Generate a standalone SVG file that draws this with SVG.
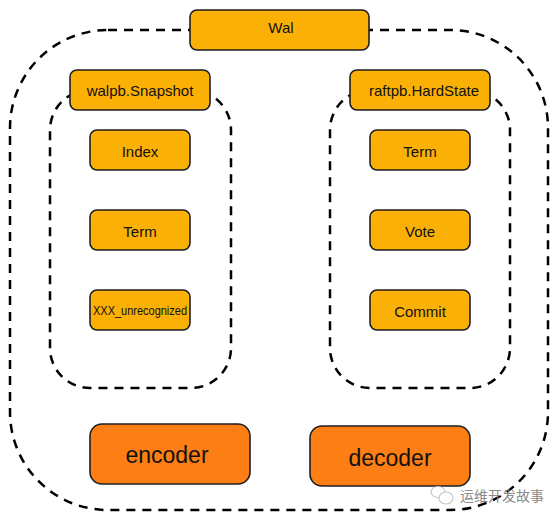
<svg xmlns="http://www.w3.org/2000/svg" width="560" height="520" viewBox="0 0 560 520">
<style>
.grp{fill:none;stroke:#000;stroke-width:2.5;stroke-dasharray:9 7}
.box{fill:#fab005;stroke:#1e1e1e;stroke-width:1.6}
.box2{fill:#fd7e14;stroke:#1e1e1e;stroke-width:1.6}
.t{font-family:"Liberation Sans",Arial,sans-serif;font-size:15px;fill:#111;text-anchor:middle;dominant-baseline:central}
.big{font-size:23px}
.wm{font-family:"Noto Sans CJK SC",sans-serif;font-size:14px;fill:#8a8a8a;dominant-baseline:central}
</style>
<rect width="560" height="520" fill="#fff"/>
<g id="connectors">
<rect class="grp" x="10" y="30" width="538" height="480" rx="98" ry="98"/>
<rect class="grp" x="50" y="90" width="181" height="298" rx="40" ry="40"/>
<rect class="grp" x="330" y="90" width="180" height="298" rx="40" ry="40"/>
</g>
<g id="wal"><rect class="box" x="190" y="10" width="179" height="40" rx="7"/><text class="t" x="281" y="27">Wal</text></g>
<g id="snapshot"><rect class="box" x="70" y="70" width="140" height="40" rx="7"/><text class="t" x="140" y="90">walpb.Snapshot</text></g>
<g id="hardstate"><rect class="box" x="350" y="70" width="140" height="40" rx="7"/><text class="t" x="424" y="90">raftpb.HardState</text></g>
<g id="index"><rect class="box" x="90" y="130" width="100" height="40" rx="7"/><text class="t" x="140" y="151">Index</text></g>
<g id="term1"><rect class="box" x="90" y="210" width="100" height="40" rx="7"/><text class="t" x="140" y="231">Term</text></g>
<g id="xxx"><rect class="box" x="90" y="290" width="100" height="40" rx="7"/><text class="t" x="140" y="311" style="font-size:12px" textLength="94" lengthAdjust="spacingAndGlyphs">XXX_unrecognized</text></g>
<g id="term2"><rect class="box" x="370" y="130" width="100" height="40" rx="7"/><text class="t" x="420" y="151">Term</text></g>
<g id="vote"><rect class="box" x="370" y="210" width="100" height="40" rx="7"/><text class="t" x="420" y="231">Vote</text></g>
<g id="commit"><rect class="box" x="370" y="290" width="100" height="40" rx="7"/><text class="t" x="420" y="311">Commit</text></g>
<g id="encoder"><rect class="box2" x="90" y="424" width="160" height="60" rx="12"/><text class="t big" x="167" y="455">encoder</text></g>
<g id="decoder"><rect class="box2" x="310" y="426" width="160" height="60" rx="12"/><text class="t big" x="390" y="458">decoder</text></g>
<g id="watermark">
<ellipse cx="438" cy="492" rx="7" ry="5.5" fill="none" stroke="#c8c8c8" stroke-width="1.2"/>
<ellipse cx="446" cy="498" rx="7" ry="6" fill="#fff" stroke="#c8c8c8" stroke-width="1.2"/>
<text class="wm" x="460" y="495">运维开发故事</text>
</g>
</svg>
